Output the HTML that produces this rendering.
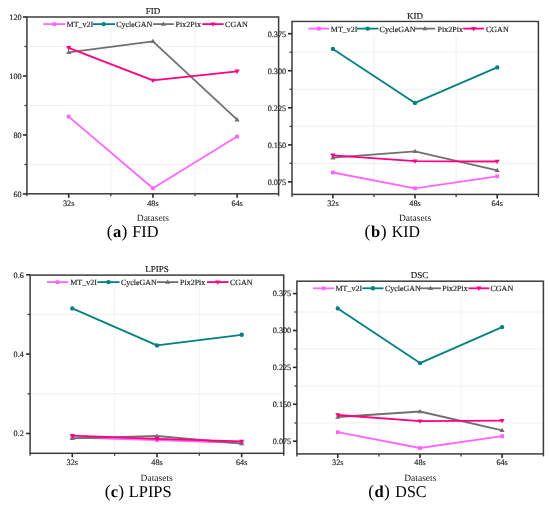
<!DOCTYPE html>
<html><head><meta charset="utf-8"><title>Figure</title>
<style>
html,body{margin:0;padding:0;background:#fff;}
svg{display:block;will-change:transform;}
svg text{font-family:"Liberation Serif", serif;fill:#1a1a1a;text-rendering:geometricPrecision;}
svg text.s{stroke:#1a1a1a;stroke-width:0.15px;}
</style></head>
<body>
<svg width="550" height="506" viewBox="0 0 550 506">
<rect width="550" height="506" fill="#fff"/>
<line x1="110.80" y1="17.00" x2="110.80" y2="193.80" stroke="#eeeeee" stroke-width="0.8"/>
<line x1="195.00" y1="17.00" x2="195.00" y2="193.80" stroke="#eeeeee" stroke-width="0.8"/>
<line x1="26.90" y1="46.50" x2="278.60" y2="46.50" stroke="#eeeeee" stroke-width="0.8"/>
<line x1="26.90" y1="105.50" x2="278.60" y2="105.50" stroke="#eeeeee" stroke-width="0.8"/>
<line x1="26.90" y1="164.50" x2="278.60" y2="164.50" stroke="#eeeeee" stroke-width="0.8"/>
<polyline points="68.70,116.60 152.90,188.20 237.10,136.60" fill="none" stroke="#ff66ff" stroke-width="1.8" stroke-linejoin="round"/>
<rect x="66.80" y="114.70" width="3.80" height="3.80" fill="#ff66ff"/>
<rect x="151.00" y="186.30" width="3.80" height="3.80" fill="#ff66ff"/>
<rect x="235.20" y="134.70" width="3.80" height="3.80" fill="#ff66ff"/>
<polyline points="68.70,52.30 152.90,41.30 237.10,119.70" fill="none" stroke="#707070" stroke-width="1.8" stroke-linejoin="round"/>
<path d="M66.10,54.00 L71.30,54.00 L68.70,49.70 Z" fill="#707070"/>
<path d="M150.30,43.00 L155.50,43.00 L152.90,38.70 Z" fill="#707070"/>
<path d="M234.50,121.40 L239.70,121.40 L237.10,117.10 Z" fill="#707070"/>
<polyline points="68.70,47.80 152.90,80.40 237.10,71.30" fill="none" stroke="#ff0080" stroke-width="1.8" stroke-linejoin="round"/>
<path d="M66.10,46.10 L71.30,46.10 L68.70,50.40 Z" fill="#ff0080"/>
<path d="M150.30,78.70 L155.50,78.70 L152.90,83.00 Z" fill="#ff0080"/>
<path d="M234.50,69.60 L239.70,69.60 L237.10,73.90 Z" fill="#ff0080"/>
<rect x="26.90" y="17.00" width="251.70" height="176.80" fill="none" stroke="#3c3c3c" stroke-width="1.5"/>
<line x1="22.90" y1="17.00" x2="26.90" y2="17.00" stroke="#2a2a2a" stroke-width="1.6"/>
<text x="21.60" y="19.80" text-anchor="end" font-size="8.2" class="s">120</text>
<line x1="22.90" y1="76.00" x2="26.90" y2="76.00" stroke="#2a2a2a" stroke-width="1.6"/>
<text x="21.60" y="78.80" text-anchor="end" font-size="8.2" class="s">100</text>
<line x1="22.90" y1="135.00" x2="26.90" y2="135.00" stroke="#2a2a2a" stroke-width="1.6"/>
<text x="21.60" y="137.80" text-anchor="end" font-size="8.2" class="s">80</text>
<line x1="22.90" y1="194.00" x2="26.90" y2="194.00" stroke="#2a2a2a" stroke-width="1.6"/>
<text x="21.60" y="196.80" text-anchor="end" font-size="8.2" class="s">60</text>
<line x1="24.40" y1="46.50" x2="26.90" y2="46.50" stroke="#3c3c3c" stroke-width="1.3"/>
<line x1="24.40" y1="105.50" x2="26.90" y2="105.50" stroke="#3c3c3c" stroke-width="1.3"/>
<line x1="24.40" y1="164.50" x2="26.90" y2="164.50" stroke="#3c3c3c" stroke-width="1.3"/>
<line x1="68.70" y1="193.80" x2="68.70" y2="197.80" stroke="#2a2a2a" stroke-width="1.6"/>
<text x="68.70" y="205.60" text-anchor="middle" font-size="8.2" class="s">32s</text>
<line x1="152.90" y1="193.80" x2="152.90" y2="197.80" stroke="#2a2a2a" stroke-width="1.6"/>
<text x="152.90" y="205.60" text-anchor="middle" font-size="8.2" class="s">48s</text>
<line x1="237.10" y1="193.80" x2="237.10" y2="197.80" stroke="#2a2a2a" stroke-width="1.6"/>
<text x="237.10" y="205.60" text-anchor="middle" font-size="8.2" class="s">64s</text>
<line x1="26.90" y1="193.80" x2="26.90" y2="196.30" stroke="#3c3c3c" stroke-width="1.3"/>
<line x1="110.80" y1="193.80" x2="110.80" y2="196.30" stroke="#3c3c3c" stroke-width="1.3"/>
<line x1="195.00" y1="193.80" x2="195.00" y2="196.30" stroke="#3c3c3c" stroke-width="1.3"/>
<line x1="278.60" y1="193.80" x2="278.60" y2="196.30" stroke="#3c3c3c" stroke-width="1.3"/>
<text x="153.00" y="14.30" text-anchor="middle" font-size="9" class="s">FID</text>
<rect x="28.90" y="18.00" width="247.70" height="13" fill="#fff"/>
<line x1="43.20" y1="24.10" x2="65.50" y2="24.10" stroke="#ff66ff" stroke-width="1.8"/>
<rect x="52.45" y="22.20" width="3.80" height="3.80" fill="#ff66ff"/>
<text x="66.60" y="27.10" font-size="8" class="s">MT_v2I</text>
<line x1="92.50" y1="24.10" x2="115.00" y2="24.10" stroke="#008080" stroke-width="1.8"/>
<circle cx="103.75" cy="24.10" r="2.20" fill="#008080"/>
<text x="116.20" y="27.10" font-size="8" class="s">CycleGAN</text>
<line x1="153.00" y1="24.10" x2="173.80" y2="24.10" stroke="#707070" stroke-width="1.8"/>
<path d="M160.80,25.80 L166.00,25.80 L163.40,21.50 Z" fill="#707070"/>
<text x="175.60" y="27.10" font-size="8" class="s">Pix2Pix</text>
<line x1="202.20" y1="24.10" x2="223.60" y2="24.10" stroke="#ff0080" stroke-width="1.8"/>
<path d="M210.30,22.40 L215.50,22.40 L212.90,26.70 Z" fill="#ff0080"/>
<text x="225.10" y="27.10" font-size="8" class="s">CGAN</text>
<text x="152.90" y="221.40" text-anchor="middle" font-size="9.5">Datasets</text>
<text x="106.70" y="237.40" font-size="17.5" style="fill:#000" textLength="20.60" lengthAdjust="spacing">(<tspan font-weight="bold" font-size="16.5">a</tspan>)</text>
<text x="132.20" y="237.40" font-size="16.5" style="fill:#000" textLength="26.30" lengthAdjust="spacingAndGlyphs">FID</text>
<line x1="373.95" y1="21.50" x2="373.95" y2="194.40" stroke="#eeeeee" stroke-width="0.8"/>
<line x1="456.10" y1="21.50" x2="456.10" y2="194.40" stroke="#eeeeee" stroke-width="0.8"/>
<line x1="292.00" y1="52.20" x2="538.40" y2="52.20" stroke="#eeeeee" stroke-width="0.8"/>
<line x1="292.00" y1="89.30" x2="538.40" y2="89.30" stroke="#eeeeee" stroke-width="0.8"/>
<line x1="292.00" y1="126.40" x2="538.40" y2="126.40" stroke="#eeeeee" stroke-width="0.8"/>
<line x1="292.00" y1="163.40" x2="538.40" y2="163.40" stroke="#eeeeee" stroke-width="0.8"/>
<polyline points="332.90,172.50 415.00,188.30 497.20,176.30" fill="none" stroke="#ff66ff" stroke-width="1.8" stroke-linejoin="round"/>
<rect x="331.00" y="170.60" width="3.80" height="3.80" fill="#ff66ff"/>
<rect x="413.10" y="186.40" width="3.80" height="3.80" fill="#ff66ff"/>
<rect x="495.30" y="174.40" width="3.80" height="3.80" fill="#ff66ff"/>
<polyline points="332.90,48.90 415.00,102.90 497.20,67.40" fill="none" stroke="#008080" stroke-width="1.8" stroke-linejoin="round"/>
<circle cx="332.90" cy="48.90" r="2.20" fill="#008080"/>
<circle cx="415.00" cy="102.90" r="2.20" fill="#008080"/>
<circle cx="497.20" cy="67.40" r="2.20" fill="#008080"/>
<polyline points="332.90,157.70 415.00,151.30 497.20,170.40" fill="none" stroke="#707070" stroke-width="1.8" stroke-linejoin="round"/>
<path d="M330.30,159.40 L335.50,159.40 L332.90,155.10 Z" fill="#707070"/>
<path d="M412.40,153.00 L417.60,153.00 L415.00,148.70 Z" fill="#707070"/>
<path d="M494.60,172.10 L499.80,172.10 L497.20,167.80 Z" fill="#707070"/>
<polyline points="332.90,155.30 415.00,161.20 497.20,161.50" fill="none" stroke="#ff0080" stroke-width="1.8" stroke-linejoin="round"/>
<path d="M330.30,153.60 L335.50,153.60 L332.90,157.90 Z" fill="#ff0080"/>
<path d="M412.40,159.50 L417.60,159.50 L415.00,163.80 Z" fill="#ff0080"/>
<path d="M494.60,159.80 L499.80,159.80 L497.20,164.10 Z" fill="#ff0080"/>
<rect x="292.00" y="21.50" width="246.40" height="172.90" fill="none" stroke="#3c3c3c" stroke-width="1.5"/>
<line x1="288.00" y1="33.70" x2="292.00" y2="33.70" stroke="#2a2a2a" stroke-width="1.6"/>
<text x="286.10" y="36.50" text-anchor="end" font-size="8.2" class="s">0.375</text>
<line x1="288.00" y1="70.70" x2="292.00" y2="70.70" stroke="#2a2a2a" stroke-width="1.6"/>
<text x="286.10" y="73.50" text-anchor="end" font-size="8.2" class="s">0.300</text>
<line x1="288.00" y1="107.80" x2="292.00" y2="107.80" stroke="#2a2a2a" stroke-width="1.6"/>
<text x="286.10" y="110.60" text-anchor="end" font-size="8.2" class="s">0.225</text>
<line x1="288.00" y1="144.90" x2="292.00" y2="144.90" stroke="#2a2a2a" stroke-width="1.6"/>
<text x="286.10" y="147.70" text-anchor="end" font-size="8.2" class="s">0.150</text>
<line x1="288.00" y1="181.90" x2="292.00" y2="181.90" stroke="#2a2a2a" stroke-width="1.6"/>
<text x="286.10" y="184.70" text-anchor="end" font-size="8.2" class="s">0.075</text>
<line x1="289.50" y1="52.20" x2="292.00" y2="52.20" stroke="#3c3c3c" stroke-width="1.3"/>
<line x1="289.50" y1="89.30" x2="292.00" y2="89.30" stroke="#3c3c3c" stroke-width="1.3"/>
<line x1="289.50" y1="126.40" x2="292.00" y2="126.40" stroke="#3c3c3c" stroke-width="1.3"/>
<line x1="289.50" y1="163.40" x2="292.00" y2="163.40" stroke="#3c3c3c" stroke-width="1.3"/>
<line x1="332.90" y1="194.40" x2="332.90" y2="198.40" stroke="#2a2a2a" stroke-width="1.6"/>
<text x="332.90" y="205.90" text-anchor="middle" font-size="8.2" class="s">32s</text>
<line x1="415.00" y1="194.40" x2="415.00" y2="198.40" stroke="#2a2a2a" stroke-width="1.6"/>
<text x="415.00" y="205.90" text-anchor="middle" font-size="8.2" class="s">48s</text>
<line x1="497.20" y1="194.40" x2="497.20" y2="198.40" stroke="#2a2a2a" stroke-width="1.6"/>
<text x="497.20" y="205.90" text-anchor="middle" font-size="8.2" class="s">64s</text>
<line x1="292.00" y1="194.40" x2="292.00" y2="196.90" stroke="#3c3c3c" stroke-width="1.3"/>
<line x1="373.95" y1="194.40" x2="373.95" y2="196.90" stroke="#3c3c3c" stroke-width="1.3"/>
<line x1="456.10" y1="194.40" x2="456.10" y2="196.90" stroke="#3c3c3c" stroke-width="1.3"/>
<line x1="538.40" y1="194.40" x2="538.40" y2="196.90" stroke="#3c3c3c" stroke-width="1.3"/>
<text x="415.00" y="19.00" text-anchor="middle" font-size="9" class="s">KID</text>
<rect x="294.00" y="22.50" width="242.40" height="13" fill="#fff"/>
<line x1="308.40" y1="28.60" x2="329.20" y2="28.60" stroke="#ff66ff" stroke-width="1.8"/>
<rect x="316.90" y="26.70" width="3.80" height="3.80" fill="#ff66ff"/>
<text x="330.80" y="31.60" font-size="8" class="s">MT_v2I</text>
<line x1="356.80" y1="28.60" x2="378.50" y2="28.60" stroke="#008080" stroke-width="1.8"/>
<circle cx="367.65" cy="28.60" r="2.20" fill="#008080"/>
<text x="379.60" y="31.60" font-size="8" class="s">CycleGAN</text>
<line x1="414.70" y1="28.60" x2="435.20" y2="28.60" stroke="#707070" stroke-width="1.8"/>
<path d="M422.35,30.30 L427.55,30.30 L424.95,26.00 Z" fill="#707070"/>
<text x="437.60" y="31.60" font-size="8" class="s">Pix2Pix</text>
<line x1="463.20" y1="28.60" x2="484.00" y2="28.60" stroke="#ff0080" stroke-width="1.8"/>
<path d="M471.00,26.90 L476.20,26.90 L473.60,31.20 Z" fill="#ff0080"/>
<text x="486.00" y="31.60" font-size="8" class="s">CGAN</text>
<text x="415.00" y="221.30" text-anchor="middle" font-size="9.5">Datasets</text>
<text x="364.40" y="237.30" font-size="17.5" style="fill:#000" textLength="22.20" lengthAdjust="spacing">(<tspan font-weight="bold" font-size="16.5">b</tspan>)</text>
<text x="391.80" y="237.30" font-size="16.5" style="fill:#000" textLength="28.20" lengthAdjust="spacingAndGlyphs">KID</text>
<line x1="114.65" y1="275.10" x2="114.65" y2="453.30" stroke="#eeeeee" stroke-width="0.8"/>
<line x1="199.35" y1="275.10" x2="199.35" y2="453.30" stroke="#eeeeee" stroke-width="0.8"/>
<line x1="30.10" y1="314.40" x2="283.70" y2="314.40" stroke="#eeeeee" stroke-width="0.8"/>
<line x1="30.10" y1="393.80" x2="283.70" y2="393.80" stroke="#eeeeee" stroke-width="0.8"/>
<polyline points="72.30,437.50 157.00,440.00 241.70,443.20" fill="none" stroke="#ff66ff" stroke-width="1.8" stroke-linejoin="round"/>
<rect x="70.40" y="435.60" width="3.80" height="3.80" fill="#ff66ff"/>
<rect x="155.10" y="438.10" width="3.80" height="3.80" fill="#ff66ff"/>
<rect x="239.80" y="441.30" width="3.80" height="3.80" fill="#ff66ff"/>
<polyline points="72.30,308.40 157.00,345.40 241.70,334.80" fill="none" stroke="#008080" stroke-width="1.8" stroke-linejoin="round"/>
<circle cx="72.30" cy="308.40" r="2.20" fill="#008080"/>
<circle cx="157.00" cy="345.40" r="2.20" fill="#008080"/>
<circle cx="241.70" cy="334.80" r="2.20" fill="#008080"/>
<polyline points="72.30,438.30 157.00,436.00 241.70,443.60" fill="none" stroke="#707070" stroke-width="1.8" stroke-linejoin="round"/>
<path d="M69.70,440.00 L74.90,440.00 L72.30,435.70 Z" fill="#707070"/>
<path d="M154.40,437.70 L159.60,437.70 L157.00,433.40 Z" fill="#707070"/>
<path d="M239.10,445.30 L244.30,445.30 L241.70,441.00 Z" fill="#707070"/>
<polyline points="72.30,435.60 157.00,438.80 241.70,441.40" fill="none" stroke="#ff0080" stroke-width="1.8" stroke-linejoin="round"/>
<path d="M69.70,433.90 L74.90,433.90 L72.30,438.20 Z" fill="#ff0080"/>
<path d="M154.40,437.10 L159.60,437.10 L157.00,441.40 Z" fill="#ff0080"/>
<path d="M239.10,439.70 L244.30,439.70 L241.70,444.00 Z" fill="#ff0080"/>
<rect x="30.10" y="275.10" width="253.60" height="178.20" fill="none" stroke="#3c3c3c" stroke-width="1.5"/>
<line x1="26.10" y1="274.80" x2="30.10" y2="274.80" stroke="#2a2a2a" stroke-width="1.6"/>
<text x="23.80" y="277.60" text-anchor="end" font-size="8.2" class="s">0.6</text>
<line x1="26.10" y1="354.10" x2="30.10" y2="354.10" stroke="#2a2a2a" stroke-width="1.6"/>
<text x="23.80" y="356.90" text-anchor="end" font-size="8.2" class="s">0.4</text>
<line x1="26.10" y1="433.50" x2="30.10" y2="433.50" stroke="#2a2a2a" stroke-width="1.6"/>
<text x="23.80" y="436.30" text-anchor="end" font-size="8.2" class="s">0.2</text>
<line x1="27.60" y1="314.40" x2="30.10" y2="314.40" stroke="#3c3c3c" stroke-width="1.3"/>
<line x1="27.60" y1="393.80" x2="30.10" y2="393.80" stroke="#3c3c3c" stroke-width="1.3"/>
<line x1="72.30" y1="453.30" x2="72.30" y2="457.30" stroke="#2a2a2a" stroke-width="1.6"/>
<text x="72.30" y="465.00" text-anchor="middle" font-size="8.2" class="s">32s</text>
<line x1="157.00" y1="453.30" x2="157.00" y2="457.30" stroke="#2a2a2a" stroke-width="1.6"/>
<text x="157.00" y="465.00" text-anchor="middle" font-size="8.2" class="s">48s</text>
<line x1="241.70" y1="453.30" x2="241.70" y2="457.30" stroke="#2a2a2a" stroke-width="1.6"/>
<text x="241.70" y="465.00" text-anchor="middle" font-size="8.2" class="s">64s</text>
<line x1="30.10" y1="453.30" x2="30.10" y2="455.80" stroke="#3c3c3c" stroke-width="1.3"/>
<line x1="114.65" y1="453.30" x2="114.65" y2="455.80" stroke="#3c3c3c" stroke-width="1.3"/>
<line x1="199.35" y1="453.30" x2="199.35" y2="455.80" stroke="#3c3c3c" stroke-width="1.3"/>
<line x1="283.70" y1="453.30" x2="283.70" y2="455.80" stroke="#3c3c3c" stroke-width="1.3"/>
<text x="156.90" y="272.40" text-anchor="middle" font-size="9" class="s">LPIPS</text>
<line x1="47.00" y1="282.10" x2="68.20" y2="282.10" stroke="#ff66ff" stroke-width="1.8"/>
<rect x="55.70" y="280.20" width="3.80" height="3.80" fill="#ff66ff"/>
<text x="70.20" y="285.10" font-size="8" class="s">MT_v2I</text>
<line x1="97.40" y1="282.10" x2="119.50" y2="282.10" stroke="#008080" stroke-width="1.8"/>
<circle cx="108.45" cy="282.10" r="2.20" fill="#008080"/>
<text x="120.90" y="285.10" font-size="8" class="s">CycleGAN</text>
<line x1="157.00" y1="282.10" x2="178.30" y2="282.10" stroke="#707070" stroke-width="1.8"/>
<path d="M165.05,283.80 L170.25,283.80 L167.65,279.50 Z" fill="#707070"/>
<text x="180.00" y="285.10" font-size="8" class="s">Pix2Pix</text>
<line x1="207.00" y1="282.10" x2="228.60" y2="282.10" stroke="#ff0080" stroke-width="1.8"/>
<path d="M215.20,280.40 L220.40,280.40 L217.80,284.70 Z" fill="#ff0080"/>
<text x="229.90" y="285.10" font-size="8" class="s">CGAN</text>
<text x="156.70" y="480.90" text-anchor="middle" font-size="9.5">Datasets</text>
<text x="104.70" y="496.90" font-size="17.5" style="fill:#000" textLength="19.40" lengthAdjust="spacing">(<tspan font-weight="bold" font-size="16.5">c</tspan>)</text>
<text x="128.80" y="496.90" font-size="16.5" style="fill:#000" textLength="42.80" lengthAdjust="spacingAndGlyphs">LPIPS</text>
<line x1="378.90" y1="281.20" x2="378.90" y2="453.90" stroke="#eeeeee" stroke-width="0.8"/>
<line x1="461.05" y1="281.20" x2="461.05" y2="453.90" stroke="#eeeeee" stroke-width="0.8"/>
<line x1="296.90" y1="312.00" x2="543.40" y2="312.00" stroke="#eeeeee" stroke-width="0.8"/>
<line x1="296.90" y1="349.00" x2="543.40" y2="349.00" stroke="#eeeeee" stroke-width="0.8"/>
<line x1="296.90" y1="386.00" x2="543.40" y2="386.00" stroke="#eeeeee" stroke-width="0.8"/>
<line x1="296.90" y1="423.00" x2="543.40" y2="423.00" stroke="#eeeeee" stroke-width="0.8"/>
<polyline points="337.80,432.20 420.00,448.00 502.10,436.20" fill="none" stroke="#ff66ff" stroke-width="1.8" stroke-linejoin="round"/>
<rect x="335.90" y="430.30" width="3.80" height="3.80" fill="#ff66ff"/>
<rect x="418.10" y="446.10" width="3.80" height="3.80" fill="#ff66ff"/>
<rect x="500.20" y="434.30" width="3.80" height="3.80" fill="#ff66ff"/>
<polyline points="337.80,308.40 420.00,363.10 502.10,327.10" fill="none" stroke="#008080" stroke-width="1.8" stroke-linejoin="round"/>
<circle cx="337.80" cy="308.40" r="2.20" fill="#008080"/>
<circle cx="420.00" cy="363.10" r="2.20" fill="#008080"/>
<circle cx="502.10" cy="327.10" r="2.20" fill="#008080"/>
<polyline points="337.80,417.00 420.00,411.50 502.10,430.30" fill="none" stroke="#707070" stroke-width="1.8" stroke-linejoin="round"/>
<path d="M335.20,418.70 L340.40,418.70 L337.80,414.40 Z" fill="#707070"/>
<path d="M417.40,413.20 L422.60,413.20 L420.00,408.90 Z" fill="#707070"/>
<path d="M499.50,432.00 L504.70,432.00 L502.10,427.70 Z" fill="#707070"/>
<polyline points="337.80,415.00 420.00,421.10 502.10,420.60" fill="none" stroke="#ff0080" stroke-width="1.8" stroke-linejoin="round"/>
<path d="M335.20,413.30 L340.40,413.30 L337.80,417.60 Z" fill="#ff0080"/>
<path d="M417.40,419.40 L422.60,419.40 L420.00,423.70 Z" fill="#ff0080"/>
<path d="M499.50,418.90 L504.70,418.90 L502.10,423.20 Z" fill="#ff0080"/>
<rect x="296.90" y="281.20" width="246.50" height="172.70" fill="none" stroke="#3c3c3c" stroke-width="1.5"/>
<line x1="292.90" y1="293.60" x2="296.90" y2="293.60" stroke="#2a2a2a" stroke-width="1.6"/>
<text x="291.20" y="296.40" text-anchor="end" font-size="8.2" class="s">0.375</text>
<line x1="292.90" y1="330.50" x2="296.90" y2="330.50" stroke="#2a2a2a" stroke-width="1.6"/>
<text x="291.20" y="333.30" text-anchor="end" font-size="8.2" class="s">0.300</text>
<line x1="292.90" y1="367.40" x2="296.90" y2="367.40" stroke="#2a2a2a" stroke-width="1.6"/>
<text x="291.20" y="370.20" text-anchor="end" font-size="8.2" class="s">0.225</text>
<line x1="292.90" y1="404.30" x2="296.90" y2="404.30" stroke="#2a2a2a" stroke-width="1.6"/>
<text x="291.20" y="407.10" text-anchor="end" font-size="8.2" class="s">0.150</text>
<line x1="292.90" y1="441.20" x2="296.90" y2="441.20" stroke="#2a2a2a" stroke-width="1.6"/>
<text x="291.20" y="444.00" text-anchor="end" font-size="8.2" class="s">0.075</text>
<line x1="294.40" y1="312.00" x2="296.90" y2="312.00" stroke="#3c3c3c" stroke-width="1.3"/>
<line x1="294.40" y1="349.00" x2="296.90" y2="349.00" stroke="#3c3c3c" stroke-width="1.3"/>
<line x1="294.40" y1="386.00" x2="296.90" y2="386.00" stroke="#3c3c3c" stroke-width="1.3"/>
<line x1="294.40" y1="423.00" x2="296.90" y2="423.00" stroke="#3c3c3c" stroke-width="1.3"/>
<line x1="337.80" y1="453.90" x2="337.80" y2="457.90" stroke="#2a2a2a" stroke-width="1.6"/>
<text x="337.80" y="465.40" text-anchor="middle" font-size="8.2" class="s">32s</text>
<line x1="420.00" y1="453.90" x2="420.00" y2="457.90" stroke="#2a2a2a" stroke-width="1.6"/>
<text x="420.00" y="465.40" text-anchor="middle" font-size="8.2" class="s">48s</text>
<line x1="502.10" y1="453.90" x2="502.10" y2="457.90" stroke="#2a2a2a" stroke-width="1.6"/>
<text x="502.10" y="465.40" text-anchor="middle" font-size="8.2" class="s">64s</text>
<line x1="296.90" y1="453.90" x2="296.90" y2="456.40" stroke="#3c3c3c" stroke-width="1.3"/>
<line x1="378.90" y1="453.90" x2="378.90" y2="456.40" stroke="#3c3c3c" stroke-width="1.3"/>
<line x1="461.05" y1="453.90" x2="461.05" y2="456.40" stroke="#3c3c3c" stroke-width="1.3"/>
<line x1="543.40" y1="453.90" x2="543.40" y2="456.40" stroke="#3c3c3c" stroke-width="1.3"/>
<text x="419.50" y="278.30" text-anchor="middle" font-size="9" class="s">DSC</text>
<rect x="298.90" y="282.20" width="242.50" height="13" fill="#fff"/>
<line x1="313.00" y1="288.30" x2="334.10" y2="288.30" stroke="#ff66ff" stroke-width="1.8"/>
<rect x="321.65" y="286.40" width="3.80" height="3.80" fill="#ff66ff"/>
<text x="335.50" y="291.30" font-size="8" class="s">MT_v2I</text>
<line x1="362.30" y1="288.30" x2="383.50" y2="288.30" stroke="#008080" stroke-width="1.8"/>
<circle cx="372.90" cy="288.30" r="2.20" fill="#008080"/>
<text x="384.90" y="291.30" font-size="8" class="s">CycleGAN</text>
<line x1="420.00" y1="288.30" x2="441.00" y2="288.30" stroke="#707070" stroke-width="1.8"/>
<path d="M427.90,290.00 L433.10,290.00 L430.50,285.70 Z" fill="#707070"/>
<text x="442.30" y="291.30" font-size="8" class="s">Pix2Pix</text>
<line x1="468.40" y1="288.30" x2="489.30" y2="288.30" stroke="#ff0080" stroke-width="1.8"/>
<path d="M476.25,286.60 L481.45,286.60 L478.85,290.90 Z" fill="#ff0080"/>
<text x="490.50" y="291.30" font-size="8" class="s">CGAN</text>
<text x="420.30" y="481.10" text-anchor="middle" font-size="9.5">Datasets</text>
<text x="368.20" y="497.20" font-size="17.5" style="fill:#000" textLength="21.70" lengthAdjust="spacing">(<tspan font-weight="bold" font-size="16.5">d</tspan>)</text>
<text x="395.30" y="497.20" font-size="16.5" style="fill:#000" textLength="31.20" lengthAdjust="spacingAndGlyphs">DSC</text>
</svg>
</body></html>
